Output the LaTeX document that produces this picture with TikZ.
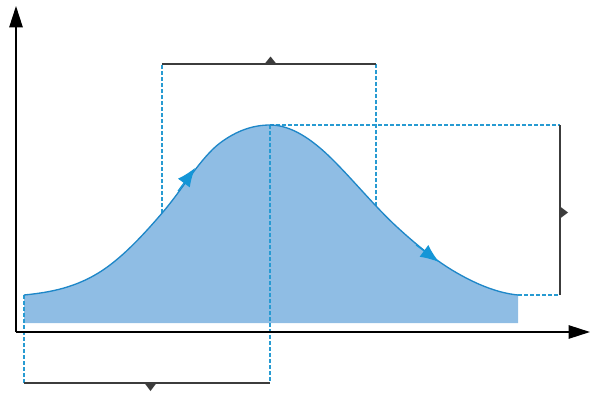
\documentclass[tikz,border=0pt]{standalone}
\usetikzlibrary{arrows.meta}
\definecolor{fillblue}{RGB}{143,189,228}
\definecolor{curveblue}{RGB}{30,135,200}
\definecolor{dashblue}{RGB}{40,155,210}
\definecolor{arrowblue}{RGB}{20,150,215}
\definecolor{bracketgray}{RGB}{60,60,60}
\begin{document}
\begin{tikzpicture}[x=0.75pt,y=-0.75pt,
  axis/.style={line width=1.2pt,black,-{Triangle[length=16pt,width=10pt]}},
  guide/.style={dashblue,line width=0.9pt,dash pattern=on 3pt off 1.5pt},
  bracket/.style={bracketgray,line width=1pt},
  tick/.style={fill=bracketgray,draw=none},
  curveline/.style={curveblue,line width=1pt},
  flowarrow/.style={arrowblue,line width=0.8pt,-{Latex[length=14pt,width=11pt]}}]
\useasboundingbox (0,0) rectangle (600,400);
% key points
\coordinate (origin) at (16,332);
\coordinate (ytip) at (16,6);
\coordinate (xtip) at (590,332);
\coordinate (lend) at (24,295);
\coordinate (rend) at (518,295);
\coordinate (peak) at (270,125);
\coordinate (fillbl) at (24,323);
\coordinate (fillbr) at (518,323);
\coordinate (tl) at (162,64);
\coordinate (tr) at (376,64);
\coordinate (cl) at (162,213);
\coordinate (cr) at (376,206);
\coordinate (rt) at (560,125);
\coordinate (rb) at (560,295);
\coordinate (bl) at (24,383);
\coordinate (br) at (270,383);
\coordinate (a1s) at (178,191);
\coordinate (a1e) at (195,168);
\coordinate (a2s) at (416,245);
\coordinate (a2e) at (439,262);
\def\bell{(lend) .. controls (50.3,292.4) and (76.7,287.6) .. (103,270)
  .. controls (123,256.6) and (143,235.4) .. (163,212)
  .. controls (182,189.8) and (201,157.3) .. (220,143)
  .. controls (236.7,130.5) and (253.3,125) .. (peak)
  .. controls (291,125) and (312,139) .. (333,160)
  .. controls (354.3,181.3) and (375.7,207.4) .. (397,227)
  .. controls (417,245.4) and (437,261.6) .. (457,273)
  .. controls (477.3,284.6) and (497.7,293) .. (rend)}
% filled area
\fill[fillblue] (fillbl) -- \bell -- (fillbr) -- cycle;
% dashed guides
\draw[guide] (cl) -- (tl);
\draw[guide] (cr) -- (tr);
\draw[guide] (peak) -- (rt);
\draw[guide] (rend) -- (rb);
\draw[guide] (lend) -- (bl);
\draw[guide] (peak) -- (br);
% curve
\draw[curveline] \bell;
\draw[flowarrow] (a1s) -- (a1e);
\draw[flowarrow] (a2s) -- (a2e);
% brackets
\draw[bracket] (tl) -- (tr);
\fill[tick] (264.5,64) -- (276.5,64) -- (270.5,56.5) -- cycle;
\draw[bracket] (rt) -- (rb);
\fill[tick] (560,206.5) -- (560,218.5) -- (568,212.5) -- cycle;
\draw[bracket] (bl) -- (br);
\fill[tick] (144.5,383) -- (156.5,383) -- (150.5,391) -- cycle;
% axes
\draw[axis] (origin) -- (ytip);
\draw[axis] (origin) -- (xtip);
\end{tikzpicture}
\end{document}
